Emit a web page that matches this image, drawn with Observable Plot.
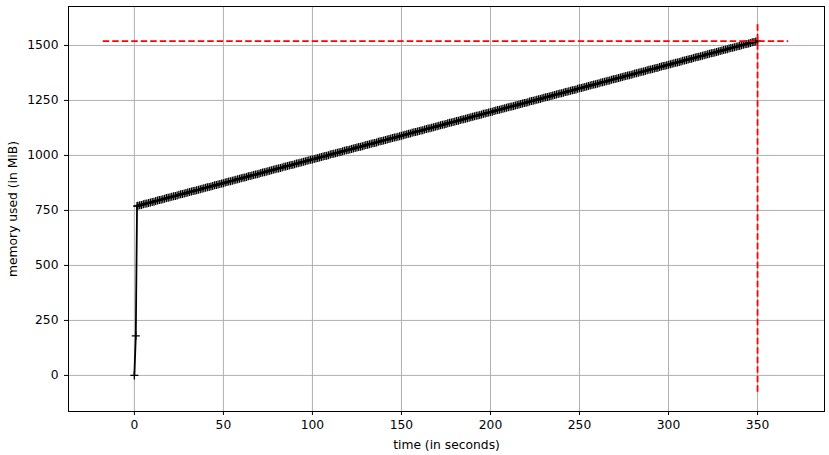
<!DOCTYPE html>
<html>
<head>
<meta charset="utf-8">
<script src="https://cdn.jsdelivr.net/npm/d3@7"></script>
<script src="https://cdn.jsdelivr.net/npm/@observablehq/plot@0.6"></script>
<style>
  html, body { margin: 0; padding: 0; background: #fff; }
  #chart svg { display: block; }
</style>
</head>
<body>
<div id="chart"></div>
<script>
// sample times (s)
const times = [0, 0.8, 1.5,
  2, 3, 4, 5, 6, 7, 8, 9,
  10, 11, 12, 13, 14, 15, 16, 17, 18, 19,
  20, 21, 22, 23, 24, 25, 26, 27, 28, 29,
  30, 31, 32, 33, 34, 35, 36, 37, 38, 39,
  40, 41, 42, 43, 44, 45, 46, 47, 48, 49,
  50, 51, 52, 53, 54, 55, 56, 57, 58, 59,
  60, 61, 62, 63, 64, 65, 66, 67, 68, 69,
  70, 71, 72, 73, 74, 75, 76, 77, 78, 79,
  80, 81, 82, 83, 84, 85, 86, 87, 88, 89,
  90, 91, 92, 93, 94, 95, 96, 97, 98, 99,
  100, 101, 102, 103, 104, 105, 106, 107, 108, 109,
  110, 111, 112, 113, 114, 115, 116, 117, 118, 119,
  120, 121, 122, 123, 124, 125, 126, 127, 128, 129,
  130, 131, 132, 133, 134, 135, 136, 137, 138, 139,
  140, 141, 142, 143, 144, 145, 146, 147, 148, 149,
  150, 151, 152, 153, 154, 155, 156, 157, 158, 159,
  160, 161, 162, 163, 164, 165, 166, 167, 168, 169,
  170, 171, 172, 173, 174, 175, 176, 177, 178, 179,
  180, 181, 182, 183, 184, 185, 186, 187, 188, 189,
  190, 191, 192, 193, 194, 195, 196, 197, 198, 199,
  200, 201, 202, 203, 204, 205, 206, 207, 208, 209,
  210, 211, 212, 213, 214, 215, 216, 217, 218, 219,
  220, 221, 222, 223, 224, 225, 226, 227, 228, 229,
  230, 231, 232, 233, 234, 235, 236, 237, 238, 239,
  240, 241, 242, 243, 244, 245, 246, 247, 248, 249,
  250, 251, 252, 253, 254, 255, 256, 257, 258, 259,
  260, 261, 262, 263, 264, 265, 266, 267, 268, 269,
  270, 271, 272, 273, 274, 275, 276, 277, 278, 279,
  280, 281, 282, 283, 284, 285, 286, 287, 288, 289,
  290, 291, 292, 293, 294, 295, 296, 297, 298, 299,
  300, 301, 302, 303, 304, 305, 306, 307, 308, 309,
  310, 311, 312, 313, 314, 315, 316, 317, 318, 319,
  320, 321, 322, 323, 324, 325, 326, 327, 328, 329,
  330, 331, 332, 333, 334, 335, 336, 337, 338, 339,
  340, 341, 342, 343, 344, 345, 346, 347, 348, 349,
  350];

// memory used (MiB)
const memory = [0, 180, 770,
  771, 773, 775, 778, 780, 782, 784, 786,
  788, 790, 793, 795, 797, 799, 801, 803, 806, 808,
  810, 812, 814, 816, 818, 821, 823, 825, 827, 829,
  831, 834, 836, 838, 840, 842, 844, 846, 849, 851,
  853, 855, 857, 859, 861, 864, 866, 868, 870, 872,
  874, 877, 879, 881, 883, 885, 887, 889, 892, 894,
  896, 898, 900, 902, 905, 907, 909, 911, 913, 915,
  917, 920, 922, 924, 926, 928, 930, 933, 935, 937,
  939, 941, 943, 945, 948, 950, 952, 954, 956, 958,
  960, 963, 965, 967, 969, 971, 973, 976, 978, 980,
  982, 984, 986, 988, 991, 993, 995, 997, 999, 1001,
  1004, 1006, 1008, 1010, 1012, 1014, 1016, 1019, 1021, 1023,
  1025, 1027, 1029, 1031, 1034, 1036, 1038, 1040, 1042, 1044,
  1047, 1049, 1051, 1053, 1055, 1057, 1059, 1062, 1064, 1066,
  1068, 1070, 1072, 1075, 1077, 1079, 1081, 1083, 1085, 1087,
  1090, 1092, 1094, 1096, 1098, 1100, 1103, 1105, 1107, 1109,
  1111, 1113, 1115, 1118, 1120, 1122, 1124, 1126, 1128, 1130,
  1133, 1135, 1137, 1139, 1141, 1143, 1146, 1148, 1150, 1152,
  1154, 1156, 1158, 1161, 1163, 1165, 1167, 1169, 1171, 1174,
  1176, 1178, 1180, 1182, 1184, 1186, 1189, 1191, 1193, 1195,
  1197, 1199, 1202, 1204, 1206, 1208, 1210, 1212, 1214, 1217,
  1219, 1221, 1223, 1225, 1227, 1229, 1232, 1234, 1236, 1238,
  1240, 1242, 1245, 1247, 1249, 1251, 1253, 1255, 1257, 1260,
  1262, 1264, 1266, 1268, 1270, 1273, 1275, 1277, 1279, 1281,
  1283, 1285, 1288, 1290, 1292, 1294, 1296, 1298, 1300, 1303,
  1305, 1307, 1309, 1311, 1313, 1316, 1318, 1320, 1322, 1324,
  1326, 1328, 1331, 1333, 1335, 1337, 1339, 1341, 1344, 1346,
  1348, 1350, 1352, 1354, 1356, 1359, 1361, 1363, 1365, 1367,
  1369, 1372, 1374, 1376, 1378, 1380, 1382, 1384, 1387, 1389,
  1391, 1393, 1395, 1397, 1399, 1402, 1404, 1406, 1408, 1410,
  1412, 1415, 1417, 1419, 1421, 1423, 1425, 1427, 1430, 1432,
  1434, 1436, 1438, 1440, 1443, 1445, 1447, 1449, 1451, 1453,
  1455, 1458, 1460, 1462, 1464, 1466, 1468, 1470, 1473, 1475,
  1477, 1479, 1481, 1483, 1486, 1488, 1490, 1492, 1494, 1496,
  1498, 1501, 1503, 1505, 1507, 1509, 1511, 1514, 1516, 1518,
  1520];

const xTicks = [0, 50, 100, 150, 200, 250, 300, 350];
const yTicks = [0, 250, 500, 750, 1000, 1250, 1500];

const data = times.map((t, i) => ({t, m: memory[i]}));

// peak memory markers (as drawn by mprof)
const maxMem = d3.max(memory);
const tPeak = times[memory.indexOf(maxMem)];
const tSpan = d3.max(times) - d3.min(times);
const hLine = [{y: maxMem, x1: d3.min(times) - 0.05 * tSpan, x2: d3.max(times) + 0.05 * tSpan}];
const vLine = [{x: tPeak, y1: -0.05 * maxMem, y2: maxMem * 1.05}];

const plusSymbol = {
  draw(context, size) {
    const r = Math.sqrt(size / Math.PI);
    context.moveTo(-r, 0); context.lineTo(r, 0);
    context.moveTo(0, -r); context.lineTo(0, r);
  }
};

const font = "'DejaVu Sans', sans-serif";
const fmt = d3.format("d");

const chart = Plot.plot({
  width: 829,
  height: 455,
  marginLeft: 68,
  marginRight: 5,
  marginTop: 6,
  marginBottom: 44,
  style: {fontFamily: font, fontSize: "12.3px", color: "black", background: "white"},
  x: {domain: [-37, 387.6]},
  y: {domain: [-164, 1677]},
  marks: [
    Plot.gridX(xTicks, {stroke: "#b0b0b0", strokeOpacity: 1, strokeWidth: 1}),
    Plot.gridY(yTicks, {stroke: "#b0b0b0", strokeOpacity: 1, strokeWidth: 1}),
    Plot.axisX({ticks: xTicks, tickFormat: fmt, tickSize: 4, tickPadding: 5, label: "time (in seconds)", labelAnchor: "center", labelArrow: "none", labelOffset: 37, fontSize: 12.3}),
    Plot.axisY({ticks: yTicks, tickFormat: fmt, tickSize: 4, tickPadding: 6, label: "memory used (in MiB)", labelAnchor: "center", labelArrow: "none", labelOffset: 60, fontSize: 12.3}),
    Plot.line(data, {x: "t", y: "m", stroke: "black", strokeWidth: 1.8}),
    Plot.dot(data, {x: "t", y: "m", symbol: plusSymbol, r: 4, stroke: "black", strokeWidth: 1.3, fill: "none"}),
    Plot.ruleY(hLine, {y: "y", x1: "x1", x2: "x2", stroke: "red", strokeWidth: 1.8, strokeDasharray: "6.5,3"}),
    Plot.ruleX(vLine, {x: "x", y1: "y1", y2: "y2", stroke: "red", strokeWidth: 1.8, strokeDasharray: "6.5,3"}),
    Plot.frame({stroke: "black", strokeWidth: 1})
  ]
});

document.getElementById("chart").appendChild(chart);
</script>
</body>
</html>
